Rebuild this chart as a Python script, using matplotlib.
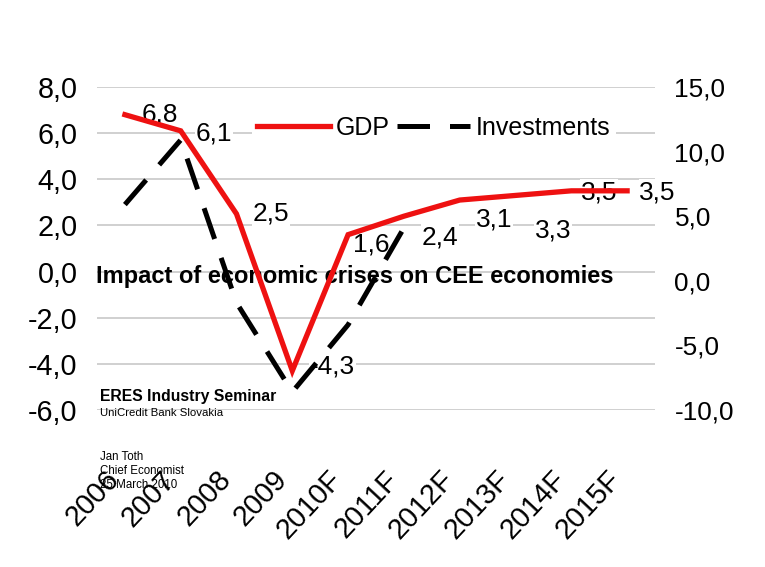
import matplotlib
matplotlib.use('Agg')
import matplotlib.pyplot as plt
from matplotlib import font_manager as fm
import numpy as np

categories = ['2006', '2007', '2008', '2009', '2010F', '2011F', '2012F', '2013F', '2014F', '2015F']
gdp = [6.8, 6.1, 2.5, -4.3, 1.6, 2.4, 3.1, 3.3, 3.5, 3.5]
investments = [5.9, 10.9, -1.7, -8.6, -3.4, 4.1, np.nan, np.nan, np.nan, np.nan]
left_ticks = [-6, -4, -2, 0, 2, 4, 6, 8]
right_ticks = [-10, -5, 0, 5, 10, 15]

title = 'Impact of economic crises on CEE economies'
seminar = 'ERES Industry Seminar'
bank = 'UniCredit Bank Slovakia'
author_lines = ['Jan Toth', 'Chief Economist', '25 March 2010']

# label offsets (points) for GDP data labels
label_offsets = [(25, 0), (24, -2), (25, 0), (29, 3), (17, -7), (26, -15), (25, -14), (27, -25), (20, -1), (22, -1)]

names = {f.name for f in fm.fontManager.ttflist}
if 'Liberation Sans Narrow' in names:
    NARROW, NS = 'Liberation Sans Narrow', 1.0
else:
    NARROW, NS = ('Liberation Sans' if 'Liberation Sans' in names else 'DejaVu Sans'), 0.9
REG = 'Liberation Sans' if 'Liberation Sans' in names else 'DejaVu Sans'

def fmt(v):
    return f'{v:.1f}'.replace('.', ',')

fig = plt.figure(figsize=(7.65, 5.67), dpi=100)
ax = fig.add_axes([97/765, 1-410/567, (655-97)/765, (410-87)/567])
ax2 = ax.twinx()

x = np.arange(len(categories))
ax.set_xlim(-0.5, len(categories)-0.5)
ax.set_ylim(-6, 8)
ax2.set_ylim(-10, 15)
ax.set_yticks(left_ticks)
ax.set_yticklabels([fmt(v) for v in left_ticks], fontfamily=NARROW, fontsize=23*NS)
ax2.set_yticks(right_ticks)
ax2.set_yticklabels([fmt(v) for v in right_ticks], fontfamily=NARROW, fontsize=21*NS)
ax.set_xticks(x)
ax.set_xticklabels(categories, fontfamily=NARROW, fontsize=23*NS, rotation=47, ha='right', va='top')
ax.tick_params(axis='x', length=0, pad=40)
ax.tick_params(axis='y', length=0, pad=14)
ax2.tick_params(axis='y', length=0, pad=14)
for a in (ax, ax2):
    for s in a.spines.values():
        s.set_visible(False)
ax.grid(axis='y', color='#c8c8c8', linewidth=1.2, zorder=0)
ax.set_axisbelow(True)

# background texts (beneath lines)
ax.text(96/765, 1-277/567, title, transform=fig.transFigure, fontfamily=REG, fontweight='bold',
        fontsize=17, va='center', ha='left', zorder=1)
ax.text(100/765, 1-397/567, seminar, transform=fig.transFigure, fontfamily=REG, fontweight='bold',
        fontsize=11.3, va='center', ha='left', zorder=1)
ax.text(100/765, 1-413/567, bank, transform=fig.transFigure, fontfamily=REG,
        fontsize=8.2, va='center', ha='left', zorder=1)
for i, line in enumerate(author_lines):
    ax.text(100/765, 1-(457+14*i)/567, line, transform=fig.transFigure, fontfamily=REG,
            fontsize=8.3, va='center', ha='left', zorder=1)

l1, = ax.plot(x, gdp, color='#ee1111', lw=3.8, zorder=4, solid_joinstyle='miter', label='GDP')
for xi, v, off in zip(x, gdp, label_offsets):
    ax.annotate(fmt(v), (xi, v), xytext=off, textcoords='offset points', ha='center', va='center',
                fontfamily=NARROW, fontsize=21*NS, zorder=3,
                bbox=dict(facecolor='white', edgecolor='none', pad=0.5))
l2, = ax2.plot(x, investments, color='black', lw=3.6, dashes=(6.5, 4), zorder=4, label='Investments')

fs_leg = 20*NS
leg = fig.legend([l1, l2], ['GDP', 'Investments'], loc='center', bbox_to_anchor=(434/765, 1-128/567),
                 ncol=2, frameon=True, fancybox=False, edgecolor='none', facecolor='white', framealpha=1,
                 handlelength=52/fs_leg, handletextpad=0.25, columnspacing=0.3, borderpad=0.2,
                 prop={'family': NARROW, 'size': fs_leg})

fig.savefig('out.png', dpi=100)
